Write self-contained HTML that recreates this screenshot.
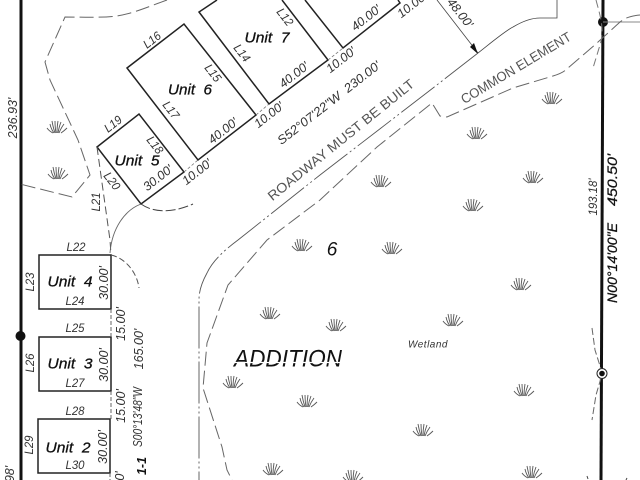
<!DOCTYPE html>
<html>
<head>
<meta charset="utf-8">
<style>
html,body{margin:0;padding:0;background:#fff;width:640px;height:480px;overflow:hidden}
svg{display:block}
text{font-family:"Liberation Sans",sans-serif;font-style:italic;text-anchor:middle;dominant-baseline:central;fill:#222}
.l{font-size:12px;fill:#333}
.d{font-size:12.5px;fill:#333}
.u{font-size:15px;fill:#111;stroke:#111;stroke-width:.3}
.g{font-size:13.5px;font-style:normal;fill:#555}
.b{fill:none;stroke:#222;stroke-width:1.500}
.t{fill:none;stroke:#444;stroke-width:.8}
.ds{fill:none;stroke:#666;stroke-width:1;stroke-dasharray:14 5}
.dd{fill:none;stroke:#555;stroke-width:.9;stroke-dasharray:42 3 2 3 2 3}
</style>
</head>
<body>
<svg width="640" height="480" viewBox="0 0 640 480" xmlns="http://www.w3.org/2000/svg">
<defs>
<g id="tuft" fill="none" stroke="#555" stroke-width=".9">
<path d="M-4,6 Q-8,4 -10,1"/><path d="M-3,6 Q-6,2 -7,-3"/><path d="M-2,6 Q-4,0 -5,-6"/><path d="M-1,6 Q-2,0 -2,-6"/><path d="M0,6 Q0,0 1,-6"/><path d="M1,6 Q2,0 4,-5"/><path d="M2,6 Q4,1 7,-3"/><path d="M4,6 Q7,4 10,1"/>
</g>
</defs>

<!-- boundaries -->
<path d="M21,0 V480" fill="none" stroke="#111" stroke-width="3"/>
<path d="M603,0 L601,480" fill="none" stroke="#111" stroke-width="3"/>
<circle cx="603" cy="22" r="5" fill="#111"/>
<circle cx="20.500" cy="336" r="5" fill="#111"/>
<circle cx="602" cy="373.500" r="5" fill="#fff" stroke="#222" stroke-width="1"/>
<circle cx="602" cy="373.500" r="2.800" fill="#111"/>
<path d="M603,22 H640" fill="none" stroke="#888" stroke-width="1"/>

<!-- units -->
<path class="b" d="M127,68 L184,24 L256,115 L198,160 Z"/>
<path class="b" d="M97,147 L139,114 L184,172 L141,204 Z"/>
<path class="b" d="M217,0 L199,12 L269,104 L328,60 L282,0"/>
<path class="b" d="M305,0 L343,48 L400,3 L398,0"/>
<rect class="b" x="39" y="255" width="72" height="54"/>
<rect class="b" x="39" y="337" width="72" height="54"/>
<rect class="b" x="38" y="419" width="72" height="54"/>

<!-- frontage dashes -->
<path d="M256,115 L269,104 M184,172 L198,160 M328,60 L343,48" fill="none" stroke="#777" stroke-width=".8" stroke-dasharray="3 2"/>
<path d="M111,309 V337 M111,391 V419 M110,473 V480" fill="none" stroke="#666" stroke-width="1" stroke-dasharray="4 2"/>

<!-- dimension with arrow -->
<path class="t" d="M437,0 L478,53"/>
<path d="M478,54 L470,47 L474,43 Z" fill="#111"/>

<!-- road -->
<path class="t" d="M478,53 C492,42 505,31 513,27 C523,21 532,18 540,18 H557 V0"/>
<path class="dd" d="M478,53 L433,88 L320,175 L238,240 C222,252 212,262 207,273 C201,284 199,292 199,300 V480"/>
<path class="ds" d="M640,15 C630,16 625,18 620,22 L597,43 L568,68 C564,72 560,74 553,76 L513,88 L447,117 L440,116 L432,103 L377,147 L320,200 L267,240 L228,285 L207,343 L203,388 L222,447 L227,470 L232,480"/>
<path class="ds" d="M167,0 C150,6 135,13 117,16 C100,18 80,17 65,17 L45,62 L50,80 L78,140 L90,175 L72,197 L20,184"/>
<path d="M97,147 L110,240 L111,255" fill="none" stroke="#555" stroke-width="1" stroke-dasharray="8 4"/>
<path d="M141,204 C125,210 112,228 110,253" fill="none" stroke="#666" stroke-width=".9"/>
<path d="M141,204 C155,214 175,212 193,204" fill="none" stroke="#444" stroke-width="1" stroke-dasharray="10 3"/>
<path d="M111,255 C125,258 137,272 139,288" fill="none" stroke="#555" stroke-width="1" stroke-dasharray="6 3"/>
<path d="M596,0 C600,15 605,30 600,45 L593,68" fill="none" stroke="#777" stroke-width="1" stroke-dasharray="8 4"/>
<path d="M592,328 L595,350 L601,369 M601,378 L596,395 L592,420" fill="none" stroke="#666" stroke-width="1" stroke-dasharray="7 3"/>
<path d="M587,476 L588,479 M627,478 L626,480" fill="none" stroke="#444" stroke-width="1"/>

<!-- tufts -->
<use href="#tuft" x="57" y="127"/><use href="#tuft" x="58" y="173"/>
<use href="#tuft" x="552" y="98"/><use href="#tuft" x="477" y="133"/>
<use href="#tuft" x="381" y="181"/><use href="#tuft" x="533" y="177"/>
<use href="#tuft" x="473" y="205"/><use href="#tuft" x="302" y="245"/>
<use href="#tuft" x="270" y="313"/><use href="#tuft" x="233" y="382"/>
<use href="#tuft" x="307" y="401"/><use href="#tuft" x="273" y="469"/>
<use href="#tuft" x="392" y="248"/><use href="#tuft" x="521" y="284"/>
<use href="#tuft" x="453" y="320"/><use href="#tuft" x="336" y="325"/>
<use href="#tuft" x="524" y="390"/><use href="#tuft" x="423" y="430"/>
<use href="#tuft" x="532" y="472"/><use href="#tuft" x="353" y="476"/>

<!-- unit labels -->
<text class="u" x="190" y="90" textLength="44" lengthAdjust="spacingAndGlyphs">Unit&#160;&#160;6</text>
<text class="u" x="267" y="38" textLength="45" lengthAdjust="spacingAndGlyphs">Unit&#160;&#160;7</text>
<text class="u" x="137" y="161" textLength="45" lengthAdjust="spacingAndGlyphs">Unit&#160;&#160;5</text>
<text class="u" x="70" y="282" textLength="45" lengthAdjust="spacingAndGlyphs">Unit&#160;&#160;4</text>
<text class="u" x="70" y="364" textLength="45" lengthAdjust="spacingAndGlyphs">Unit&#160;&#160;3</text>
<text class="u" x="68" y="448" textLength="45" lengthAdjust="spacingAndGlyphs">Unit&#160;&#160;2</text>

<!-- line labels -->
<text class="l" transform="translate(152,40) rotate(-38)" textLength="19" lengthAdjust="spacingAndGlyphs">L16</text>
<text class="l" transform="translate(213,73) rotate(52)" textLength="19" lengthAdjust="spacingAndGlyphs">L15</text>
<text class="l" transform="translate(171,110) rotate(52)" textLength="19" lengthAdjust="spacingAndGlyphs">L17</text>
<text class="l" transform="translate(242,53) rotate(52)" textLength="19" lengthAdjust="spacingAndGlyphs">L14</text>
<text class="l" transform="translate(285,17) rotate(52)" textLength="19" lengthAdjust="spacingAndGlyphs">L12</text>
<text class="l" transform="translate(113,124) rotate(-38)" textLength="19" lengthAdjust="spacingAndGlyphs">L19</text>
<text class="l" transform="translate(155,145) rotate(52)" textLength="19" lengthAdjust="spacingAndGlyphs">L18</text>
<text class="l" transform="translate(112,181) rotate(52)" textLength="19" lengthAdjust="spacingAndGlyphs">L20</text>
<text class="l" transform="translate(96,202) rotate(-90)" textLength="19" lengthAdjust="spacingAndGlyphs">L21</text>
<text class="l" x="76" y="247" textLength="19" lengthAdjust="spacingAndGlyphs">L22</text>
<text class="l" transform="translate(30,282) rotate(-90)" textLength="19" lengthAdjust="spacingAndGlyphs">L23</text>
<text class="l" x="75" y="301" textLength="19" lengthAdjust="spacingAndGlyphs">L24</text>
<text class="l" x="75" y="328" textLength="19" lengthAdjust="spacingAndGlyphs">L25</text>
<text class="l" transform="translate(30,363) rotate(-90)" textLength="19" lengthAdjust="spacingAndGlyphs">L26</text>
<text class="l" x="75" y="383" textLength="19" lengthAdjust="spacingAndGlyphs">L27</text>
<text class="l" x="75" y="411" textLength="19" lengthAdjust="spacingAndGlyphs">L28</text>
<text class="l" transform="translate(29,445) rotate(-90)" textLength="19" lengthAdjust="spacingAndGlyphs">L29</text>
<text class="l" x="75" y="465" textLength="19" lengthAdjust="spacingAndGlyphs">L30</text>

<!-- dimensions -->
<text class="d" transform="translate(294,75) rotate(-38)">40.00'</text>
<text class="d" transform="translate(223,131) rotate(-38)">40.00'</text>
<text class="d" transform="translate(366,18) rotate(-38)">40.00'</text>
<text class="d" transform="translate(269,115) rotate(-38)">10.00'</text>
<text class="d" transform="translate(197,172) rotate(-38)">10.00'</text>
<text class="d" transform="translate(341,60) rotate(-38)">10.00'</text>
<text class="d" transform="translate(412,5) rotate(-38)">10.00'</text>
<text class="d" transform="translate(158,178) rotate(-38)">30.00'</text>
<text class="d" transform="translate(460,13) rotate(52)">48.00'</text>
<text class="d" transform="translate(329,103) rotate(-38)" textLength="127" lengthAdjust="spacingAndGlyphs">S52°07'22"W&#160;&#160;230.00'</text>
<text class="d" transform="translate(13,118) rotate(-90)">236.93'</text>
<text class="d" transform="translate(104,283) rotate(-90)">30.00'</text>
<text class="d" transform="translate(104,365) rotate(-90)">30.00'</text>
<text class="d" transform="translate(103,447) rotate(-90)">30.00'</text>
<text class="d" transform="translate(121,324) rotate(-90)">15.00'</text>
<text class="d" transform="translate(121,406) rotate(-90)">15.00'</text>
<text class="d" transform="translate(120,476) rotate(-90)">0'</text>
<text class="d" transform="translate(139,349) rotate(-90)">165.00'</text>
<text class="d" transform="translate(138,417) rotate(-90)" textLength="60" lengthAdjust="spacingAndGlyphs">S00°13'48"W</text>
<text class="d" style="font-weight:bold;fill:#111" transform="translate(142,466) rotate(-90)">1-1</text>
<text class="d" transform="translate(10,474) rotate(-90)">98'</text>
<text class="l" transform="translate(593,197) rotate(-90)" textLength="37" lengthAdjust="spacingAndGlyphs">193.18'</text>
<text style="font-size:14px;fill:#111;stroke:#111;stroke-width:.25" transform="translate(612,180) rotate(-90)" textLength="52" lengthAdjust="spacingAndGlyphs">450.50'</text>
<text style="font-size:14px;fill:#111;stroke:#111;stroke-width:.25" transform="translate(612,263) rotate(-90)" textLength="80" lengthAdjust="spacingAndGlyphs">N00°14'00"E</text>

<!-- road labels -->
<text class="g" transform="translate(341,140) rotate(-39)" textLength="184" lengthAdjust="spacingAndGlyphs">ROADWAY MUST BE BUILT</text>
<text class="g" transform="translate(516,68) rotate(-31)" textLength="126" lengthAdjust="spacingAndGlyphs">COMMON ELEMENT</text>

<!-- plat labels -->
<text x="332" y="250" style="font-size:19px;fill:#111">6</text>
<text x="288" y="359" style="font-size:24px;fill:#111" textLength="108" lengthAdjust="spacingAndGlyphs">ADDITION</text>
<path d="M228,362.500 H348" stroke="#fff" stroke-width="1.200"/>
<text x="428" y="345" style="font-size:10px;fill:#333;letter-spacing:.5px">Wetland</text>
</svg>
</body>
</html>
